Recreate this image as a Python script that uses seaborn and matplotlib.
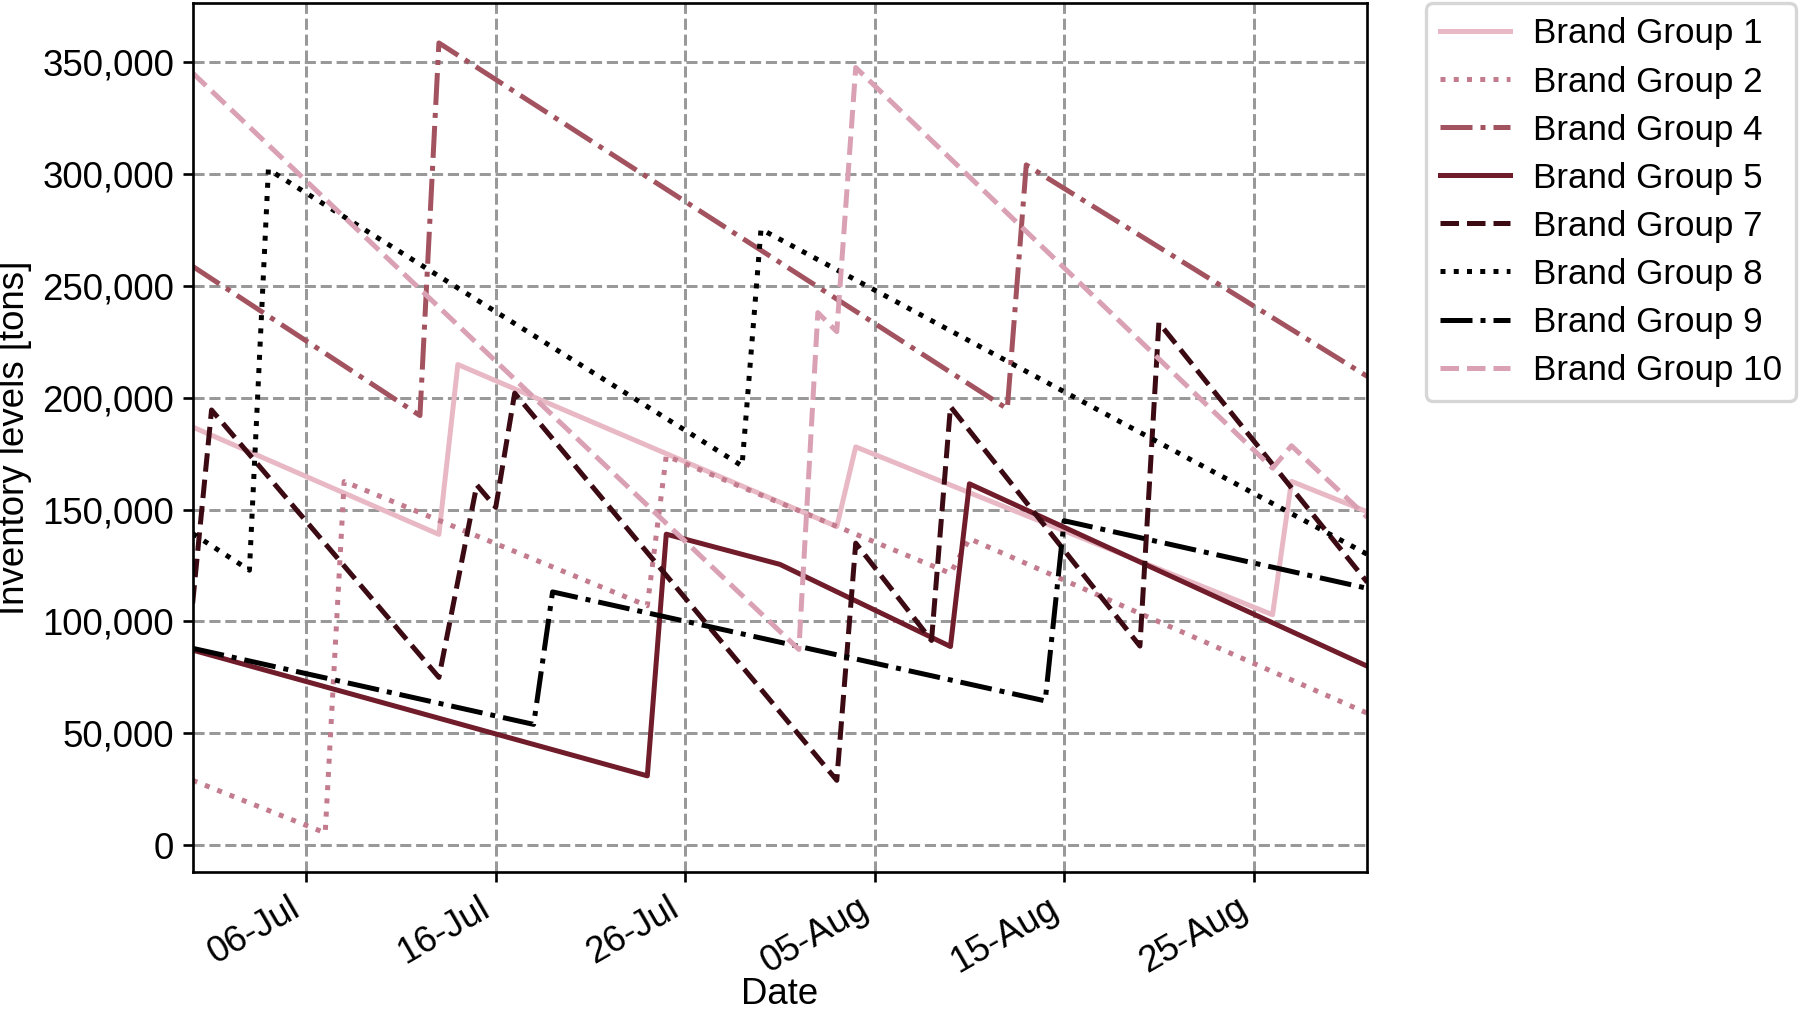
import pandas as pd
import seaborn as sns
import matplotlib.pyplot as plt
from matplotlib.ticker import StrMethodFormatter
import matplotlib.dates as mdates

plt.rcParams['font.family'] = ['Liberation Sans', 'DejaVu Sans']
plt.rcParams['font.size'] = 11

year = '2023'

# break points of each sawtooth (month-day, tons)
bg1_dates = ['06-30', '07-13', '07-14', '08-03', '08-04', '08-26', '08-27', '08-31']
bg1_values = [186900, 138900, 214800, 142400, 178000, 103000, 162600, 149000]

bg2_dates = ['06-30', '07-07', '07-08', '07-24', '07-25', '08-09', '08-10', '08-31']
bg2_values = [29000, 5500, 162500, 107000, 174000, 121500, 137000, 59000]

bg4_dates = ['06-30', '07-12', '07-13', '08-12', '08-13', '08-31']
bg4_values = [258700, 192000, 358500, 195000, 304000, 209500]

bg5_dates = ['06-30', '07-24', '07-25', '07-31', '08-09', '08-10', '08-31']
bg5_values = [87200, 31000, 139000, 125500, 88800, 161500, 80000]

bg7_dates = ['06-30', '07-01', '07-13', '07-15', '07-16', '07-17', '08-03', '08-04',
             '08-08', '08-09', '08-19', '08-20', '08-31']
bg7_values = [108000, 194500, 75000, 161000, 151000, 202000, 29000, 135000,
              91500, 196000, 89000, 233500, 117500]

bg8_dates = ['06-30', '07-03', '07-04', '07-29', '07-30', '08-31']
bg8_values = [139300, 122900, 302000, 169500, 275300, 130000]

bg9_dates = ['06-30', '07-18', '07-19', '08-14', '08-15', '08-31']
bg9_values = [88000, 54000, 113200, 64500, 145000, 114800]

bg10_dates = ['06-30', '08-01', '08-02', '08-03', '08-04', '08-26', '08-27', '08-31']
bg10_values = [345100, 87500, 238000, 229500, 347500, 168500, 178500, 146500]

brands = ['Brand Group 1', 'Brand Group 2', 'Brand Group 4', 'Brand Group 5',
          'Brand Group 7', 'Brand Group 8', 'Brand Group 9', 'Brand Group 10']
series = [(bg1_dates, bg1_values), (bg2_dates, bg2_values), (bg4_dates, bg4_values),
          (bg5_dates, bg5_values), (bg7_dates, bg7_values), (bg8_dates, bg8_values),
          (bg9_dates, bg9_values), (bg10_dates, bg10_values)]

colors = ['#e8b9c5', '#c37b8e', '#a3535f', '#701c2a', '#3b0a12', '#000000', '#000000', '#d9a1b3']
dash_styles = ['', (1, 1.65), (6.4, 1.6, 1, 1.6), '', (3.7, 1.6), (1, 1.65),
               (6.4, 1.6, 1, 1.6), (3.7, 1.6)]

tick_dates = ['07-06', '07-16', '07-26', '08-05', '08-15', '08-25']

frames = []
for name, (d, v) in zip(brands, series):
    frames.append(pd.DataFrame({'Date': pd.to_datetime([year + '-' + x for x in d]),
                                'Inventory': v, 'Brand': name}))
df = pd.concat(frames, ignore_index=True)

fig, ax = plt.subplots(figsize=(7.5, 4.2417), dpi=240)
fig.subplots_adjust(left=0.107, right=0.7596, top=0.9966, bottom=0.143)

sns.lineplot(data=df, x='Date', y='Inventory', hue='Brand', style='Brand',
             hue_order=brands, style_order=brands,
             palette=dict(zip(brands, colors)), dashes=dict(zip(brands, dash_styles)),
             estimator=None, linewidth=1.5, ax=ax)

ax.grid(True, linestyle='--', color='0.6', linewidth=0.9)
ax.set_axisbelow(True)
ax.tick_params(length=3, pad=2.5)

ax.set_xlim(df['Date'].min(), df['Date'].max())
ax.set_xticks(pd.to_datetime([year + '-' + x for x in tick_dates]))
ax.xaxis.set_major_formatter(mdates.DateFormatter('%d-%b'))
plt.setp(ax.get_xticklabels(), rotation=30, ha='right')
ax.yaxis.set_major_formatter(StrMethodFormatter('{x:,.0f}'))

ax.set_xlabel('Date', labelpad=-1)
ax.set_ylabel('Inventory levels [tons]', labelpad=3)

handles, labels = ax.get_legend_handles_labels()
ax.legend(handles, labels, loc='upper left', bbox_to_anchor=(1.05, 1.0), borderaxespad=0,
          fontsize=10.5, labelspacing=0.43, handlelength=2.0, handletextpad=0.65)

fig.savefig('out.png', dpi=240)
